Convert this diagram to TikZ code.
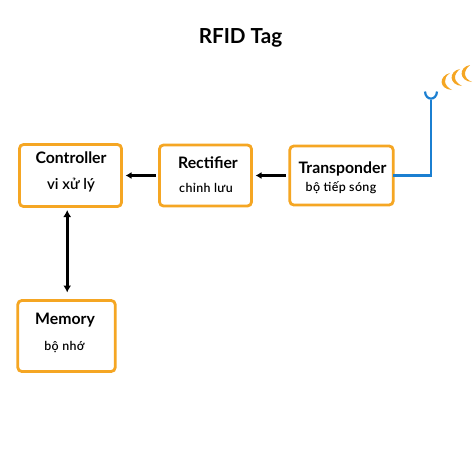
\documentclass[tikz,border=0pt]{standalone}
\usepackage{xcolor}
\usepackage{fontspec}
\setmainfont{Lato}
\newfontfamily\semifont{Lato Semibold}
\usetikzlibrary{arrows.meta,positioning,calc}
\definecolor{accent}{HTML}{F5A623}
\definecolor{aerial}{HTML}{1B7FD1}

\begin{document}
\begin{tikzpicture}[
  x=1pt, y=-1pt,
  block/.style={draw=accent, line width=2.8pt, rounded corners=4pt, fill=white, inner sep=0pt, outer sep=0pt},
  head/.style={font=\fontsize{15.8}{18}\selectfont\bfseries},
  sublabel/.style={font=\fontsize{12.4}{14}\semifont\addfontfeature{LetterSpace=3}},
  arr/.style={-{Latex[length=6pt,width=7pt]}, line width=2.6pt, black},
  dbl/.style={{Latex[length=7pt,width=8pt]}-{Latex[length=7pt,width=8pt]}, line width=2.8pt, black},
  wave/.style={fill=accent, draw=none}
]
\useasboundingbox (0,0) rectangle (474,474);
\node[font=\fontsize{20.7}{24}\selectfont\bfseries] (title) at (240.5,37.5) {RFID Tag};
\node[block, minimum width=102pt, minimum height=62pt] (ctrl) at (70.5,175.5) {};
\node[block, minimum width=92pt, minimum height=61pt, right=38pt of ctrl] (rect) {};
\node[block, minimum width=103.4pt, minimum height=59pt, right=38.3pt of rect] (trans) {};
\node[block, minimum width=97.4pt, minimum height=71pt] (mem) at (66.5,336) {};
\node[head] (ctrltxt) at (71,158) {Controller};
\node[sublabel, font=\fontsize{15}{17}\semifont] (ctrlsub) at (71,185) {vi xử lý};
\node[head] (recttxt) at (208,163) {Rectifier};
\node[sublabel] (rectsub) at (206,188) {chỉnh lưu};
\node[head] (transtxt) at (342.5,169) {Transponder};
\node[sublabel] (transsub) at (341,187.5) {bộ tiếp sóng};
\node[head] (memtxt) at (65,320) {Memory};
\node[sublabel] (memsub) at (64.5,347.5) {bộ nhớ};
\coordinate (aerialtop) at (431,100);
\coordinate (linktop) at (67.2,210);
\draw[arr, shorten >=4pt, shorten <=4pt] (rect.west) -- (ctrl.east |- rect.west);
\draw[arr, shorten >=4pt, shorten <=4pt] (trans.west) -- (rect.east |- trans.west);
\draw[dbl, shorten >=8pt] (linktop) -- (linktop |- mem.north);
\draw[aerial, line width=2.6pt] (trans.east) -- (aerialtop |- trans.east) -- (aerialtop);
\draw[aerial, line width=2.2pt] (425,91.5) .. controls (425.5,101) and (436.5,101) .. (437,91.5);
\fill[wave] (450,73) .. controls (438.5,76) and (438.5,89) .. (452,90) .. controls (443,85) and (443,78) .. (450,73) -- cycle;
\fill[wave] (460,69) .. controls (448.5,71) and (448.5,85) .. (462,86) .. controls (453,81) and (453,75) .. (460,69) -- cycle;
\fill[wave] (470,65) .. controls (458.5,67) and (458.5,81) .. (472,82) .. controls (463,78) and (463,71) .. (470,65) -- cycle;
\end{tikzpicture}
\end{document}
